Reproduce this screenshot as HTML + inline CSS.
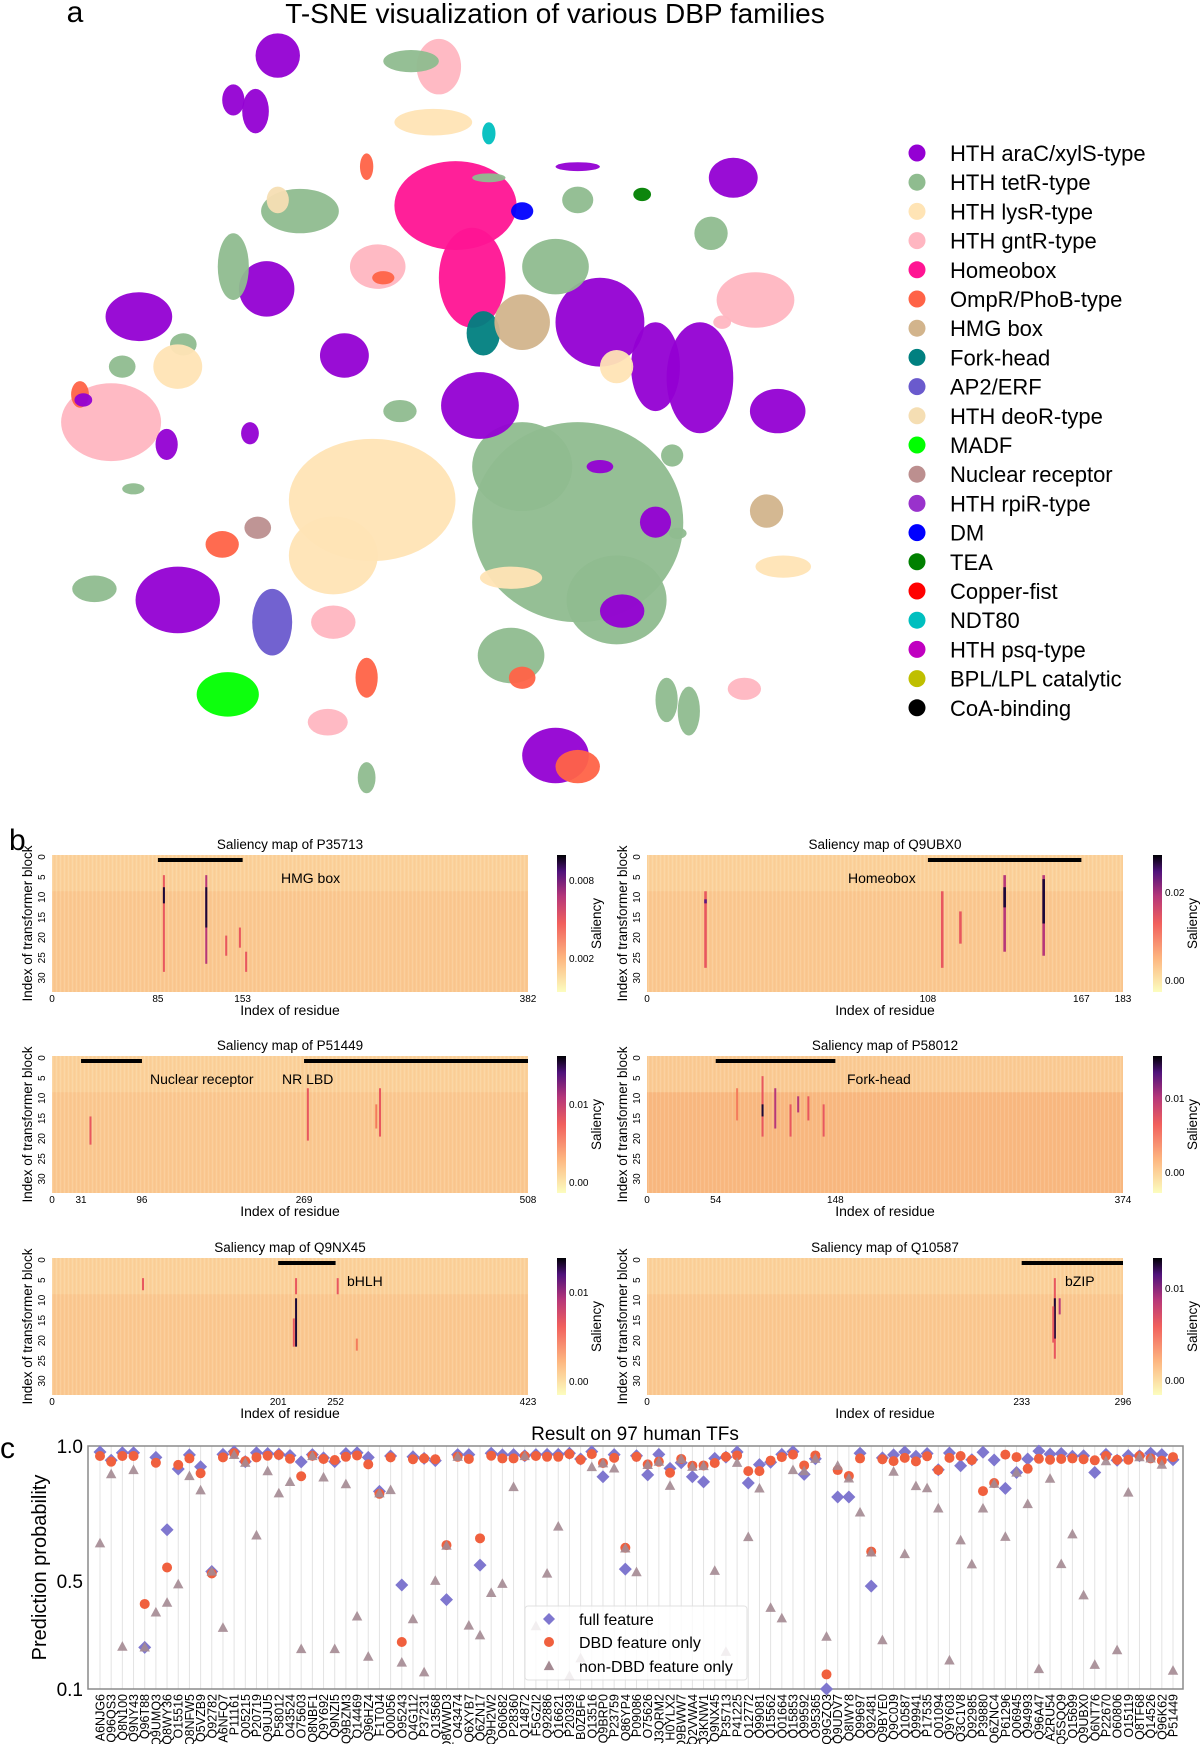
<!DOCTYPE html>
<html><head><meta charset="utf-8"><style>
html,body{margin:0;padding:0;background:#fff;}
svg{display:block;font-family:"Liberation Sans",Arial,sans-serif;}
</style></head><body>
<svg id="fig" width="1200" height="1744" viewBox="0 0 1200 1744" xmlns="http://www.w3.org/2000/svg">
<defs>
<linearGradient id="magma" x1="0" y1="1" x2="0" y2="0">
<stop offset="0" stop-color="#fcfdbf"/><stop offset="0.25" stop-color="#fdb57f"/><stop offset="0.5" stop-color="#f1605d"/><stop offset="0.7" stop-color="#b5367a"/><stop offset="0.88" stop-color="#4f127b"/><stop offset="1" stop-color="#000004"/>
</linearGradient>
<pattern id="stripes" width="4" height="4" patternUnits="userSpaceOnUse"><rect width="4" height="4" fill="none"/><rect x="0" width="1" height="4" fill="#ffffff" opacity="0.12"/><rect x="2" width="1" height="4" fill="#e89a60" opacity="0.08"/></pattern>
</defs>
<g id="panelA"></g>
<g id="panelB"></g>
<g id="panelC"></g>
</svg>
<script>
const NS="http://www.w3.org/2000/svg";
function mk(tag,attrs,parent,txt){const e=document.createElementNS(NS,tag);for(const k in attrs)e.setAttribute(k,attrs[k]);if(txt!==undefined)e.textContent=txt;parent.appendChild(e);return e;}

/* ---------- Panel A: t-SNE ---------- */
const familyNames=["HTH araC/xylS-type","HTH tetR-type","HTH lysR-type","HTH gntR-type","Homeobox","OmpR/PhoB-type","HMG box","Fork-head","AP2/ERF","HTH deoR-type","MADF","Nuclear receptor","HTH rpiR-type","DM","TEA","Copper-fist","NDT80","HTH psq-type","BPL/LPL catalytic","CoA-binding"];
const familyColors=["#9400d3","#8fbc8f","#ffe4b5","#ffb6c1","#ff1493","#ff6347","#d2b48c","#008080","#6a5acd","#f5deb3","#00ff00","#bc8f8f","#9932cc","#0000ff","#008000","#ff0000","#00bfbf","#c000c0","#bfbf00","#000000"];
const clusterFam=[4,4,1,1,1,1,2,2,3,3,3,3,0,0,0,0,0,0,0,0,0,0,0,0,0,1,1,1,1,1,1,1,1,1,1,3,3,2,2,2,8,10,7,6,6,5,5,5,5,5,13,0,0,1,2,9,11,5,14,16,0,1,3,0,1,2,0,1,1,0,5,1,0,3,1,0];
const clusterCx=[410,425,520,470,555,460,335,300,100,395,680,340,125,240,160,432,540,590,630,700,500,250,230,310,560,210,270,500,640,85,370,600,520,605,360,670,300,390,705,555,245,205,435,470,690,470,520,200,330,72,470,660,75,165,160,250,232,345,578,440,590,620,295,210,110,460,520,440,330,150,330,610,540,650,120,225];
const clusterCy=[185,250,470,420,540,590,450,500,380,60,270,240,285,260,540,365,290,330,340,370,680,50,100,320,550,240,190,240,210,530,55,630,180,410,370,620,560,110,510,330,560,625,300,290,460,610,690,490,610,355,190,160,360,310,330,180,475,250,175,120,470,640,650,90,330,520,150,160,700,400,150,480,420,290,440,390];
const clusterRx=[55,30,95,45,45,30,75,40,45,20,35,25,30,25,38,35,40,22,30,25,30,20,12,22,20,14,35,30,15,20,25,10,14,10,15,15,20,35,25,15,18,28,15,25,15,12,20,15,10,8,10,22,8,12,22,10,12,10,8,6,14,10,18,10,12,28,20,15,8,10,6,8,12,8,10,8];
const clusterRy=[40,45,90,40,40,25,55,35,35,25,25,20,22,25,30,30,40,40,50,20,25,20,20,20,15,30,20,25,15,12,10,20,12,10,10,10,15,12,10,15,30,20,20,25,15,10,15,12,18,12,8,18,6,10,20,12,10,6,6,10,14,22,12,14,10,10,4,4,14,14,12,5,6,6,5,10];
const A=document.getElementById('panelA');
const ga=mk('g',{transform:'scale(1.111)'},A);
clusterFam.forEach((f,i)=>{
  const e=mk('ellipse',{cx:clusterCx[i],cy:clusterCy[i],rx:clusterRx[i],ry:clusterRy[i],fill:familyColors[f],opacity:0.95},ga);
  
  
});
let t=mk('text',{x:75,y:22,'font-size':30,'text-anchor':'middle'},A,'a');
t=mk('text',{x:555,y:23,'font-size':28,'text-anchor':'middle'},A,'T-SNE visualization of various DBP families');
familyNames.forEach((n,i)=>{
  const y=153+29.2*i;
  const g=mk('g',{},A);
  
  
  mk('circle',{cx:917,cy:y,r:8.5,fill:familyColors[i]},g);
  mk('text',{x:950,y:y+8,'font-size':22},g,n);
});

/* ---------- Panel B: saliency maps ---------- */
const hmTitles=["Saliency map of P35713","Saliency map of Q9UBX0","Saliency map of P51449","Saliency map of P58012","Saliency map of Q9NX45","Saliency map of Q10587"];
const hmMax=[382,183,508,374,423,296];
const hmTicks=[[0,85,153,382],[0,108,167,183],[0,31,96,269,508],[0,54,148,374],[0,201,252,423],[0,233,296]];
const hmBars=[[[85,153]],[[108,167]],[[31,96],[269,508]],[[54,148]],[[201,252]],[[233,296]]];
const hmDomain=[["HMG box",281],["Homeobox",848],["Nuclear receptor",150,"NR LBD",282],["Fork-head",847],["bHLH",347],["bZIP",1065]];
const hmCbTop=["0.008","0.02","0.01","0.01","0.01","0.01"];
const hmCbBot=["0.002","0.00","0.00","0.00","0.00","0.00"];
const hmCbTopY=[880,892,1104,1098,1292,1288];
const hmCbBotY=[958,980,1182,1172,1381,1380];
const hmStreaks=[
 [[89,5,29,0.5],[89,8,12,0.9],[123,5,27,0.6],[123,8,18,1.0],[139,20,25,0.4],[150,18,23,0.5],[155,24,29,0.4]],
 [[22,9,28,0.5],[22,11,12,0.8],[113,9,28,0.45],[120,14,22,0.45],[137,5,24,0.6],[137,8,13,1.0],[152,5,25,0.6],[152,6,17,1.0]],
 [[40,15,22,0.4],[272,8,21,0.4],[349,8,20,0.5],[345,12,18,0.3]],
 [[90,5,20,0.5],[90,12,15,0.9],[100,8,18,0.6],[112,12,20,0.5],[118,10,14,0.6],[126,10,16,0.5],[138,12,20,0.4],[70,8,16,0.3]],
 [[80,5,8,0.4],[216,10,22,0.9],[216,5,9,0.5],[214,15,22,0.5],[253,5,9,0.5],[270,20,23,0.3]],
 [[253,5,25,0.5],[253,10,20,1.0],[256,10,14,0.6],[252,12,21,0.4]]
];
const hmLeft=[52,647,52,647,52,647];
const hmTop=[855,855,1056,1056,1258,1258];
const hmW=476,hmH=137;
const B=document.getElementById('panelB');
function heatColor(v){if(v>0.85)return'#1a0838';if(v>0.7)return'#5d177f';if(v>0.5)return'#b73779';if(v>0.35)return'#e8575f';return'#f47c5c';}
t=mk('text',{x:9,y:850,'font-size':30},B,'b');
for(let k=0;k<6;k++){
  const g=mk('g',{},B);
  
  
  const L=hmLeft[k],T=hmTop[k],mx=hmMax[k];
  const xs=v=>L+v/mx*hmW;
  const rowH=hmH/34;
  const base=(k===3)?'#f8b880':'#fac890';
  mk('rect',{x:L,y:T,width:hmW,height:hmH,fill:base},g);
  mk('rect',{x:L,y:T,width:hmW,height:rowH*9,fill:'#fcd7a2',opacity:0.6},g);
  mk('rect',{x:L,y:T,width:hmW,height:hmH,fill:'url(#stripes)'},g);
  hmStreaks[k].forEach(s=>{
    const r=mk('rect',{x:xs(s[0]),y:T+s[1]*rowH,width:Math.max(2,hmW/mx),height:(s[2]-s[1])*rowH,fill:heatColor(s[3])},g);
    
    
  });
  hmBars[k].forEach(b=>{const r=mk('rect',{x:xs(b[0]),y:T+3,width:xs(b[1])-xs(b[0]),height:4,fill:'#000'},g);});
  const d=hmDomain[k];
  mk('text',{x:d[1],y:T+28,'font-size':14},g,d[0]);
  if(d[2])mk('text',{x:d[3],y:T+28,'font-size':14},g,d[2]);
  mk('text',{x:L+238,y:T-6,'font-size':13.5,'text-anchor':'middle'},g,hmTitles[k]);
  hmTicks[k].forEach(v=>mk('text',{x:xs(v),y:T+hmH+10,'font-size':10,'text-anchor':'middle'},g,String(v)));
  mk('text',{x:L+238,y:T+hmH+23,'font-size':14,'text-anchor':'middle'},g,'Index of residue');
  for(let r=0;r<=30;r+=5){mk('text',{transform:`translate(${L-7},${T+(r+0.5)*rowH}) rotate(-90)`,'font-size':10,'text-anchor':'middle'},g,String(r));}
  mk('text',{transform:`translate(${L-20},${T+hmH/2}) rotate(-90)`,'font-size':13.5,'text-anchor':'middle'},g,'Index of transformer block');
  const cbx=(k%2===0)?557:1153;
  const cb=mk('rect',{x:cbx,y:T,width:9,height:hmH,fill:'url(#magma)'},g);
  
  mk('text',{x:cbx+12,y:hmCbTopY[k]+4,'font-size':10},g,hmCbTop[k]);
  mk('text',{x:cbx+12,y:hmCbBotY[k]+4,'font-size':10},g,hmCbBot[k]);
  mk('text',{transform:`translate(${cbx+44},${T+hmH/2}) rotate(-90)`,'font-size':13.5,'text-anchor':'middle'},g,'Saliency');
}
</script>
<script>
/* ---------- Panel C: prediction chart ---------- */
const categories=["A6NJG6","Q96QS3","Q8N100","Q9NY43","Q96T88","Q9UMQ3","Q8WY36","O15516","Q8NFW5","Q5VZB9","Q92782","A6NFQ7","P11161","Q05215","P20719","Q9UJU5","P58012","O43524","O75603","Q8NBF1","Q9Y692","Q9NZI5","Q9BZM3","Q14469","Q96HZ4","F1T0J4","Q00056","O95243","Q4G112","P37231","Q13568","Q8WWD3","O43474","Q6XYB7","Q6ZN17","Q9H2W2","O60682","P28360","Q14872","F5GZI2","Q92886","Q16621","P20393","B0ZBF6","Q13516","Q9BRP0","P23759","Q86YP4","P09086","O75626","J3QRM2","H0YLX2","Q9BWW7","Q2VWA4","Q3KNW1","Q9NX45","P35713","P41225","Q12772","Q99081","Q15562","Q01664","Q15853","Q99592","O95365","Q9GZQ3","Q9UDV7","Q8IWY8","Q99697","Q92481","Q9BYE0","Q9C0J9","Q10587","Q99941","P17535","Q01094","Q9Y603","Q3C1V8","Q92985","P39880","Q6ZNC4","P61296","Q06945","Q94993","Q96A47","A2RU54","Q5SQQ9","Q15699","Q9UBX0","Q6NT76","P22670","O60806","O15119","Q8TF68","Q14526","Q96K62","P51449"];
const fullFeature=[0.978,0.947,0.975,0.975,0.254,0.958,0.69,0.915,0.967,0.923,0.535,0.969,0.979,0.942,0.975,0.972,0.97,0.965,0.941,0.968,0.956,0.942,0.972,0.975,0.958,0.832,0.963,0.485,0.96,0.954,0.946,0.431,0.968,0.968,0.559,0.973,0.967,0.968,0.964,0.968,0.969,0.969,0.973,0.952,0.979,0.886,0.968,0.544,0.964,0.893,0.969,0.917,0.938,0.886,0.867,0.954,0.959,0.978,0.863,0.931,0.94,0.969,0.979,0.895,0.953,0.10,0.811,0.811,0.973,0.481,0.956,0.967,0.978,0.962,0.972,0.912,0.974,0.927,0.949,0.977,0.948,0.843,0.902,0.952,0.981,0.97,0.972,0.962,0.964,0.902,0.969,0.947,0.965,0.964,0.973,0.968,0.949];
const dbdOnly=[0.963,0.942,0.963,0.963,0.415,0.938,0.55,0.93,0.954,0.899,0.528,0.958,0.973,0.944,0.958,0.964,0.967,0.953,0.888,0.964,0.952,0.948,0.96,0.965,0.932,0.823,0.958,0.274,0.951,0.954,0.951,0.633,0.96,0.952,0.658,0.964,0.954,0.954,0.963,0.963,0.96,0.96,0.97,0.949,0.97,0.937,0.956,0.623,0.96,0.932,0.942,0.901,0.952,0.927,0.928,0.937,0.96,0.965,0.907,0.907,0.946,0.959,0.968,0.928,0.965,0.154,0.911,0.889,0.954,0.609,0.951,0.944,0.956,0.943,0.962,0.911,0.956,0.963,0.948,0.833,0.863,0.968,0.959,0.916,0.953,0.949,0.952,0.954,0.951,0.947,0.963,0.949,0.949,0.963,0.954,0.946,0.959];
const nonDbdOnly=[0.64,0.896,0.257,0.911,0.254,0.384,0.42,0.488,0.889,0.836,0.535,0.327,0.967,0.938,0.669,0.907,0.825,0.867,0.248,0.963,0.884,0.248,0.859,0.369,0.22,0.825,0.837,0.198,0.359,0.162,0.501,0.631,0.96,0.335,0.299,0.456,0.49,0.848,0.963,0.333,0.528,0.702,0.148,0.214,0.922,0.936,0.917,0.621,0.533,0.93,0.942,0.853,0.952,0.923,0.926,0.538,0.238,0.938,0.663,0.843,0.401,0.362,0.911,0.907,0.953,0.294,0.927,0.88,0.754,0.606,0.281,0.905,0.6,0.852,0.844,0.769,0.206,0.651,0.562,0.769,0.86,0.664,0.902,0.785,0.174,0.879,0.563,0.673,0.447,0.19,0.944,0.244,0.828,0.959,0.954,0.931,0.168];
const yTicks=[0.1,0.5,1.0];
const yTickLabels=["0.1","0.5","1.0"];

const C=document.getElementById('panelC');
const plotL=88,plotR=1183,plotT=1446,plotB=1689;
const yScale=v=>plotB-(v-0.1)/(0.9)*(plotB-plotT);
const xScale=i=>100+i*(1073/(categories.length-1));
let tx=mk('text',{x:0,y:1458,'font-size':30},C,'c');


tx=mk('text',{x:635,y:1440,'font-size':19,'text-anchor':'middle'},C,'Result on 97 human TFs');


tx=mk('text',{transform:`translate(46,${(plotT+plotB)/2}) rotate(-90)`,'font-size':20,'text-anchor':'middle'},C,'Prediction probability');


const grid=mk('g',{},C);


categories.forEach((c,i)=>{
  mk('line',{x1:xScale(i),x2:xScale(i),y1:plotT,y2:plotB,stroke:'#e3e3e3','stroke-width':1},grid);
  const lb=mk('text',{transform:`translate(${xScale(i)+4.5},${plotB+5}) rotate(-90)`,'font-size':12.5,'text-anchor':'end'},C,c);
  
  
});
const frame=mk('rect',{x:plotL,y:plotT,width:plotR-plotL,height:plotB-plotT,fill:'none',stroke:'#8a8a8a','stroke-width':1.5},C);


yTicks.forEach((v,i)=>{
  const lb=mk('text',{x:plotL-5,y:yScale(v)+7,'font-size':19,'text-anchor':'end'},C,yTickLabels[i]);
  
  
});
const fullC='#7f77cf',dbdC='#f0603e',nonC='#a48a92';
function diamond(x,y,s){return `${x},${y-s} ${x+s},${y} ${x},${y+s} ${x-s},${y}`;}
function tri(x,y,s){return `${x},${y-s} ${x+s*0.95},${y+s*0.75} ${x-s*0.95},${y+s*0.75}`;}
categories.forEach((c,i)=>{
  const d=mk('polygon',{points:diamond(xScale(i),yScale(fullFeature[i]),6.5),fill:fullC},C);
  
  
});
categories.forEach((c,i)=>{
  const p=mk('circle',{cx:xScale(i),cy:yScale(dbdOnly[i]),r:5,fill:dbdC},C);
  
  
});
categories.forEach((c,i)=>{
  const p=mk('polygon',{points:tri(xScale(i),yScale(nonDbdOnly[i]),5.5),fill:nonC,opacity:0.9},C);
  
  
});
const lg=mk('g',{},C);


mk('rect',{x:525,y:1606,width:222,height:74,fill:'#fff',opacity:0.85,stroke:'#dddddd',rx:3},lg);
mk('polygon',{points:diamond(549,1619,6),fill:fullC},lg);
mk('text',{x:579,y:1625,'font-size':16},lg,'full feature');
mk('circle',{cx:549,cy:1642,r:5,fill:dbdC},lg);
mk('text',{x:579,y:1648,'font-size':16},lg,'DBD feature only');
mk('polygon',{points:tri(549,1666,5.5),fill:nonC},lg);
mk('text',{x:579,y:1672,'font-size':16},lg,'non-DBD feature only');
</script>
</body></html>
